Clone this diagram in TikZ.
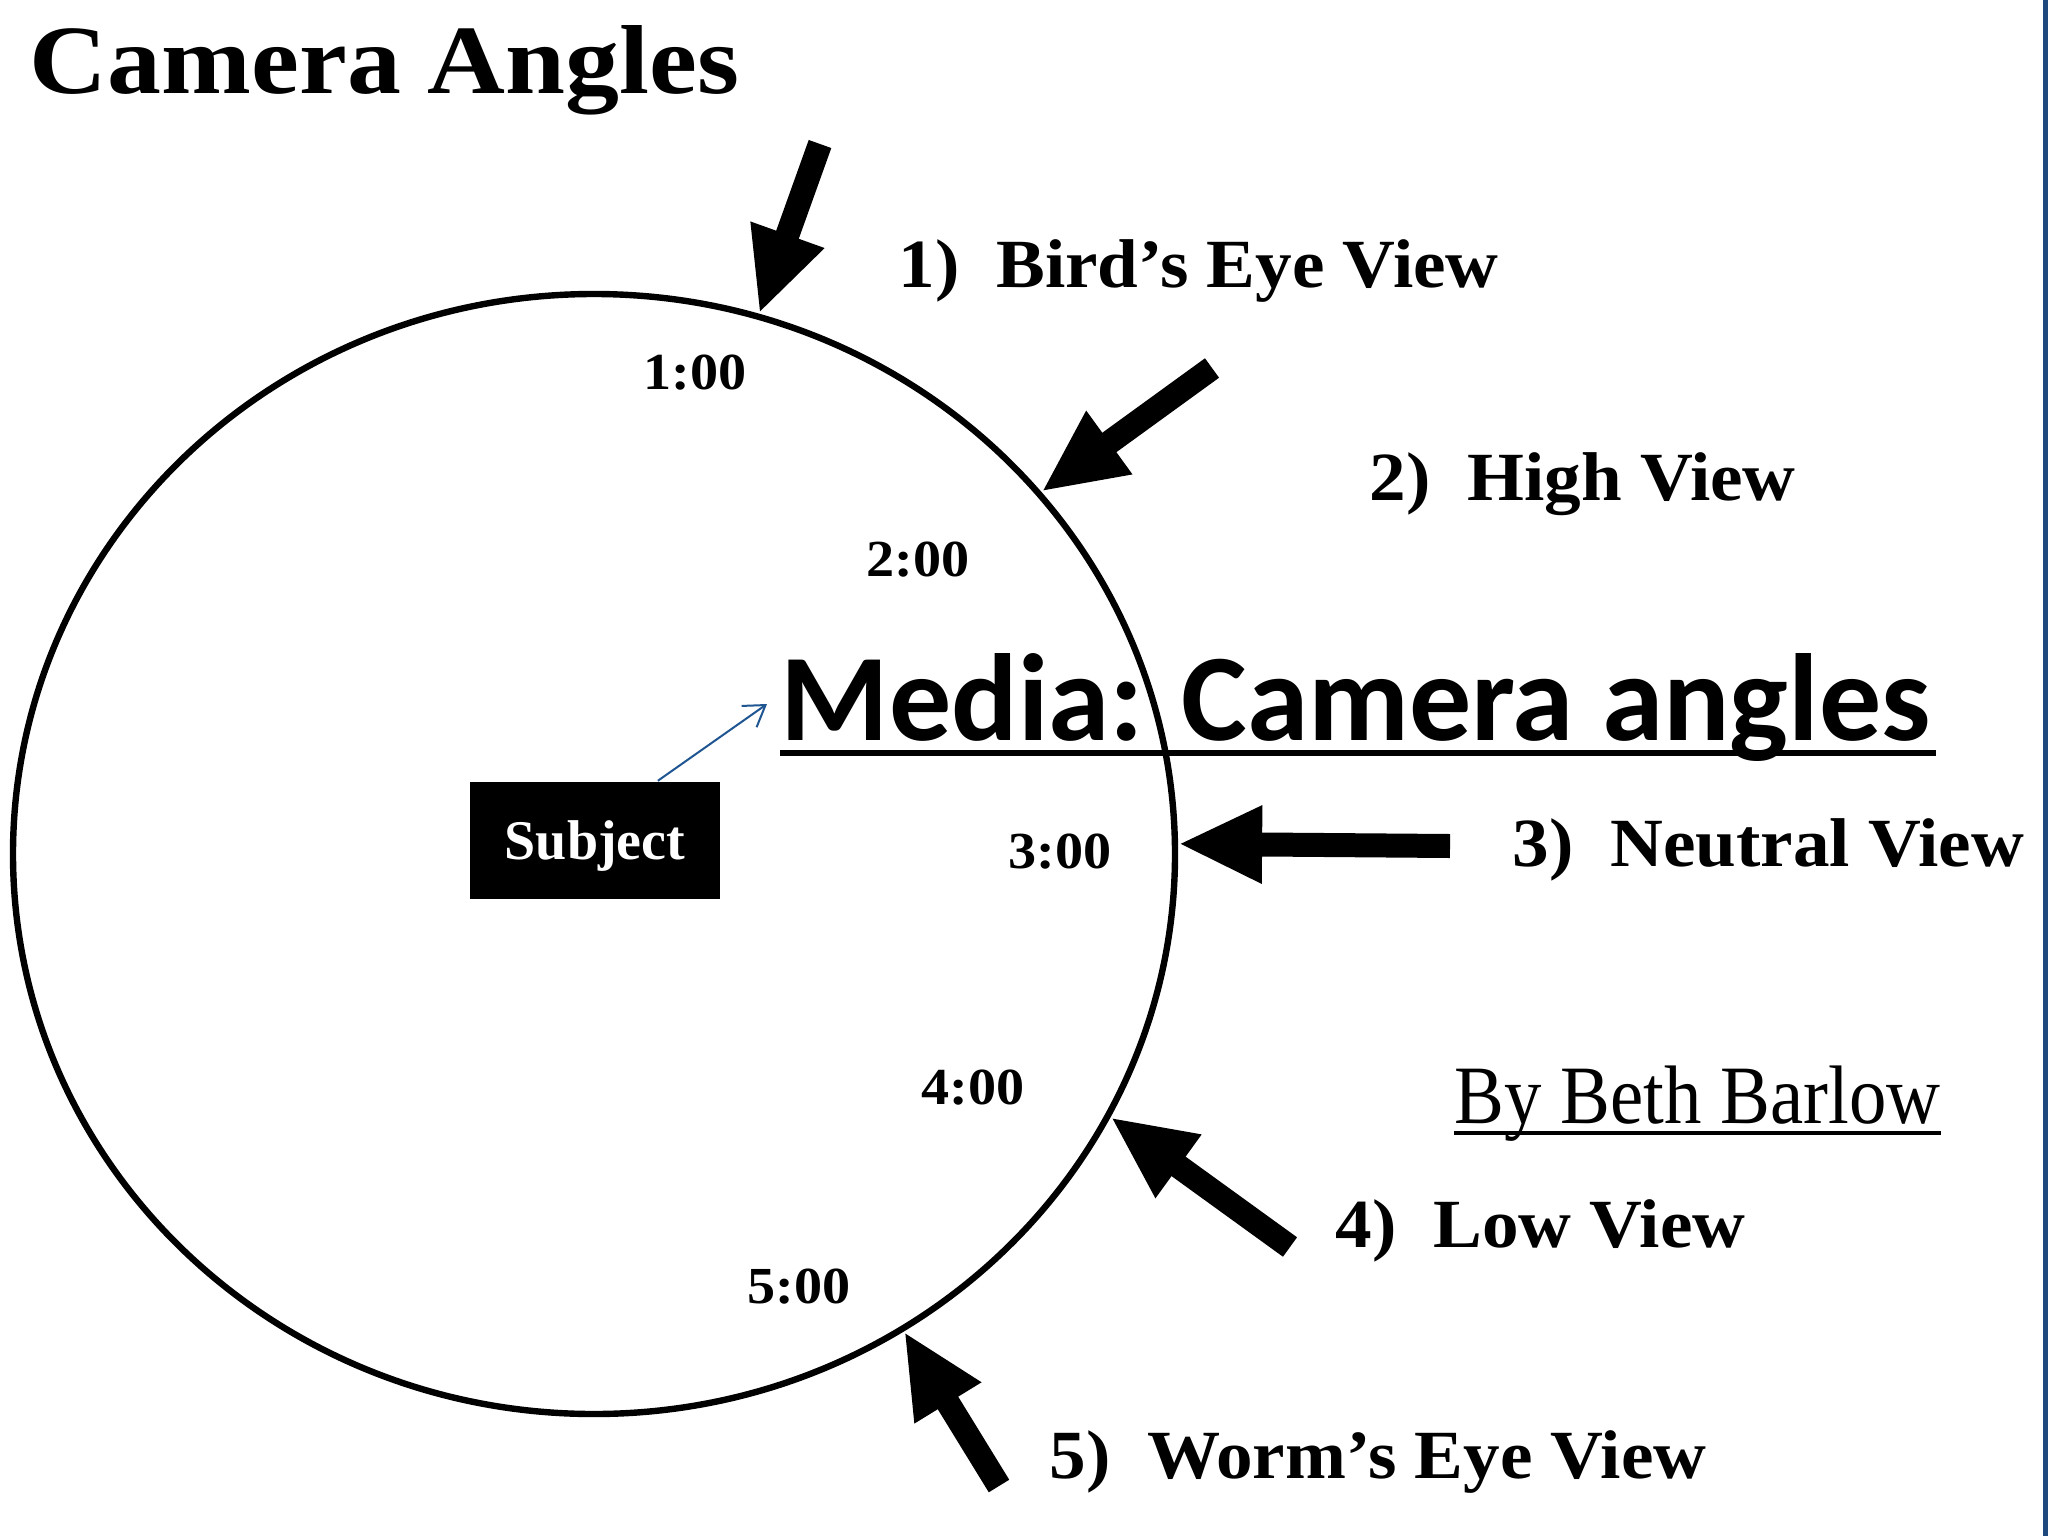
\documentclass[tikz,border=0pt]{standalone}
\usepackage{fontspec}
\setmainfont{Liberation Serif}
\newfontfamily\headfont[FakeStretch=1.1]{Liberation Serif}
\newfontfamily\viewfont[FakeStretch=1.06]{Liberation Serif}
\newfontfamily\clockfont[FakeStretch=1.08]{Liberation Serif}
\newfontfamily\slidefont{Carlito}
\newfontfamily\bylinefont[FakeStretch=0.9]{Liberation Serif}
\usetikzlibrary{arrows.meta,shapes.geometric,calc}

\definecolor{slideblue}{RGB}{31,86,145}
\definecolor{edgeblue}{RGB}{31,73,125}

\tikzset{every picture/.style={line width=0.75pt}}
\tikzset{
	viewlabel/.style={anchor=base west, inner sep=0pt, font=\viewfont\bfseries\fontsize{34.5}{40}\selectfont},
	clocklabel/.style={anchor=base, inner sep=0pt, font=\clockfont\bfseries\fontsize{26}{30}\selectfont},
	viewarrow/.style={line width=12pt, -{Triangle[length=42pt,width=36pt]}}}

\begin{document}
\begin{tikzpicture}[x=0.5pt,y=0.5pt,yscale=-1,xscale=1]
	\useasboundingbox (0,0) rectangle (2048,1536);
	\fill[white] (0,0) rectangle (2048,1536);

	%Shape: Rectangle (slide edge)
	\fill[edgeblue] (2043,0) rectangle (2048,1536);

	%Shape: Ellipse
	\node[ellipse, draw, line width=3.2pt, inner sep=0pt, minimum width=581pt, minimum height=560pt] (circ) at (594,854) {};

	% Text Node
	\node[anchor=base west, inner sep=0pt, font=\headfont\bfseries\fontsize{49}{55}\selectfont] (head) at (29,94) {Camera Angles};

	% Text Node
	\node[fill=black, text=white, inner sep=0pt, text depth=0pt, minimum width=125pt, minimum height=58.5pt, font=\bfseries\fontsize{28}{32}\selectfont] (subject) at (595,840) {Subject};

	% Clock Nodes
	\node[clocklabel] (c1) at (695,389) {1:00};
	\node[clocklabel] (c2) at (918,576) {2:00};
	\node[clocklabel] (c3) at (1060,868) {3:00};
	\node[clocklabel] (c4) at (973,1104) {4:00};
	\node[clocklabel] (c5) at (799,1303) {5:00};

	% View Nodes
	\node[viewlabel] (v1) at (898,287) {1)\ \ Bird’s Eye View};
	\node[viewlabel] (v2) at (1369,500) {2)\ \ High View};
	\node[viewlabel] (v3) at (1512,866) {3)\ \ Neutral View};
	\node[viewlabel] (v4) at (1335,1247) {4)\ \ Low View};
	\node[viewlabel] (v5) at (1049,1478) {5)\ \ Worm’s Eye View};

	%Straight Lines
	\coordinate (t1) at (820,144);
	\coordinate (t2) at (1212,368);
	\coordinate (t3) at (1450,846);
	\coordinate (t4) at (1290,1247);
	\coordinate (t5) at (999,1486);
	\draw[viewarrow] (t1) -- (circ.73.8);
	\draw[viewarrow] (t2) -- (circ.39.2);
	\draw[viewarrow] (t3) -- (circ.1);
	\draw[viewarrow] (t4) -- (circ.-27.9);
	\draw[viewarrow] (t5) -- (circ.-57.7);

	% Text Node
	\node[anchor=base west, inner sep=0pt, font=\slidefont\bfseries\fontsize{62}{70}\selectfont] (title) at (780,740) {Media: Camera angles};
	\draw[line width=3pt] ($(title.base west)+(0,13)$) -- ($(title.base east)+(4,13)$);

	%Straight Lines
	\coordinate (ptr) at (767,704);
	\draw[slideblue, line width=1pt, -{Straight Barb[length=10pt,width=13pt]}] ($(subject.north west)!0.75!(subject.north east)$) -- (ptr);

	% Text Node
	\node[anchor=base west, inner sep=0pt, font=\bylinefont\fontsize{41.5}{48}\selectfont] (byline) at (1454,1123) {By Beth Barlow};
	\draw[line width=2pt] ($(byline.base west)+(0,10)$) -- ($(byline.base east)+(0,10)$);

\end{tikzpicture}
\end{document}
